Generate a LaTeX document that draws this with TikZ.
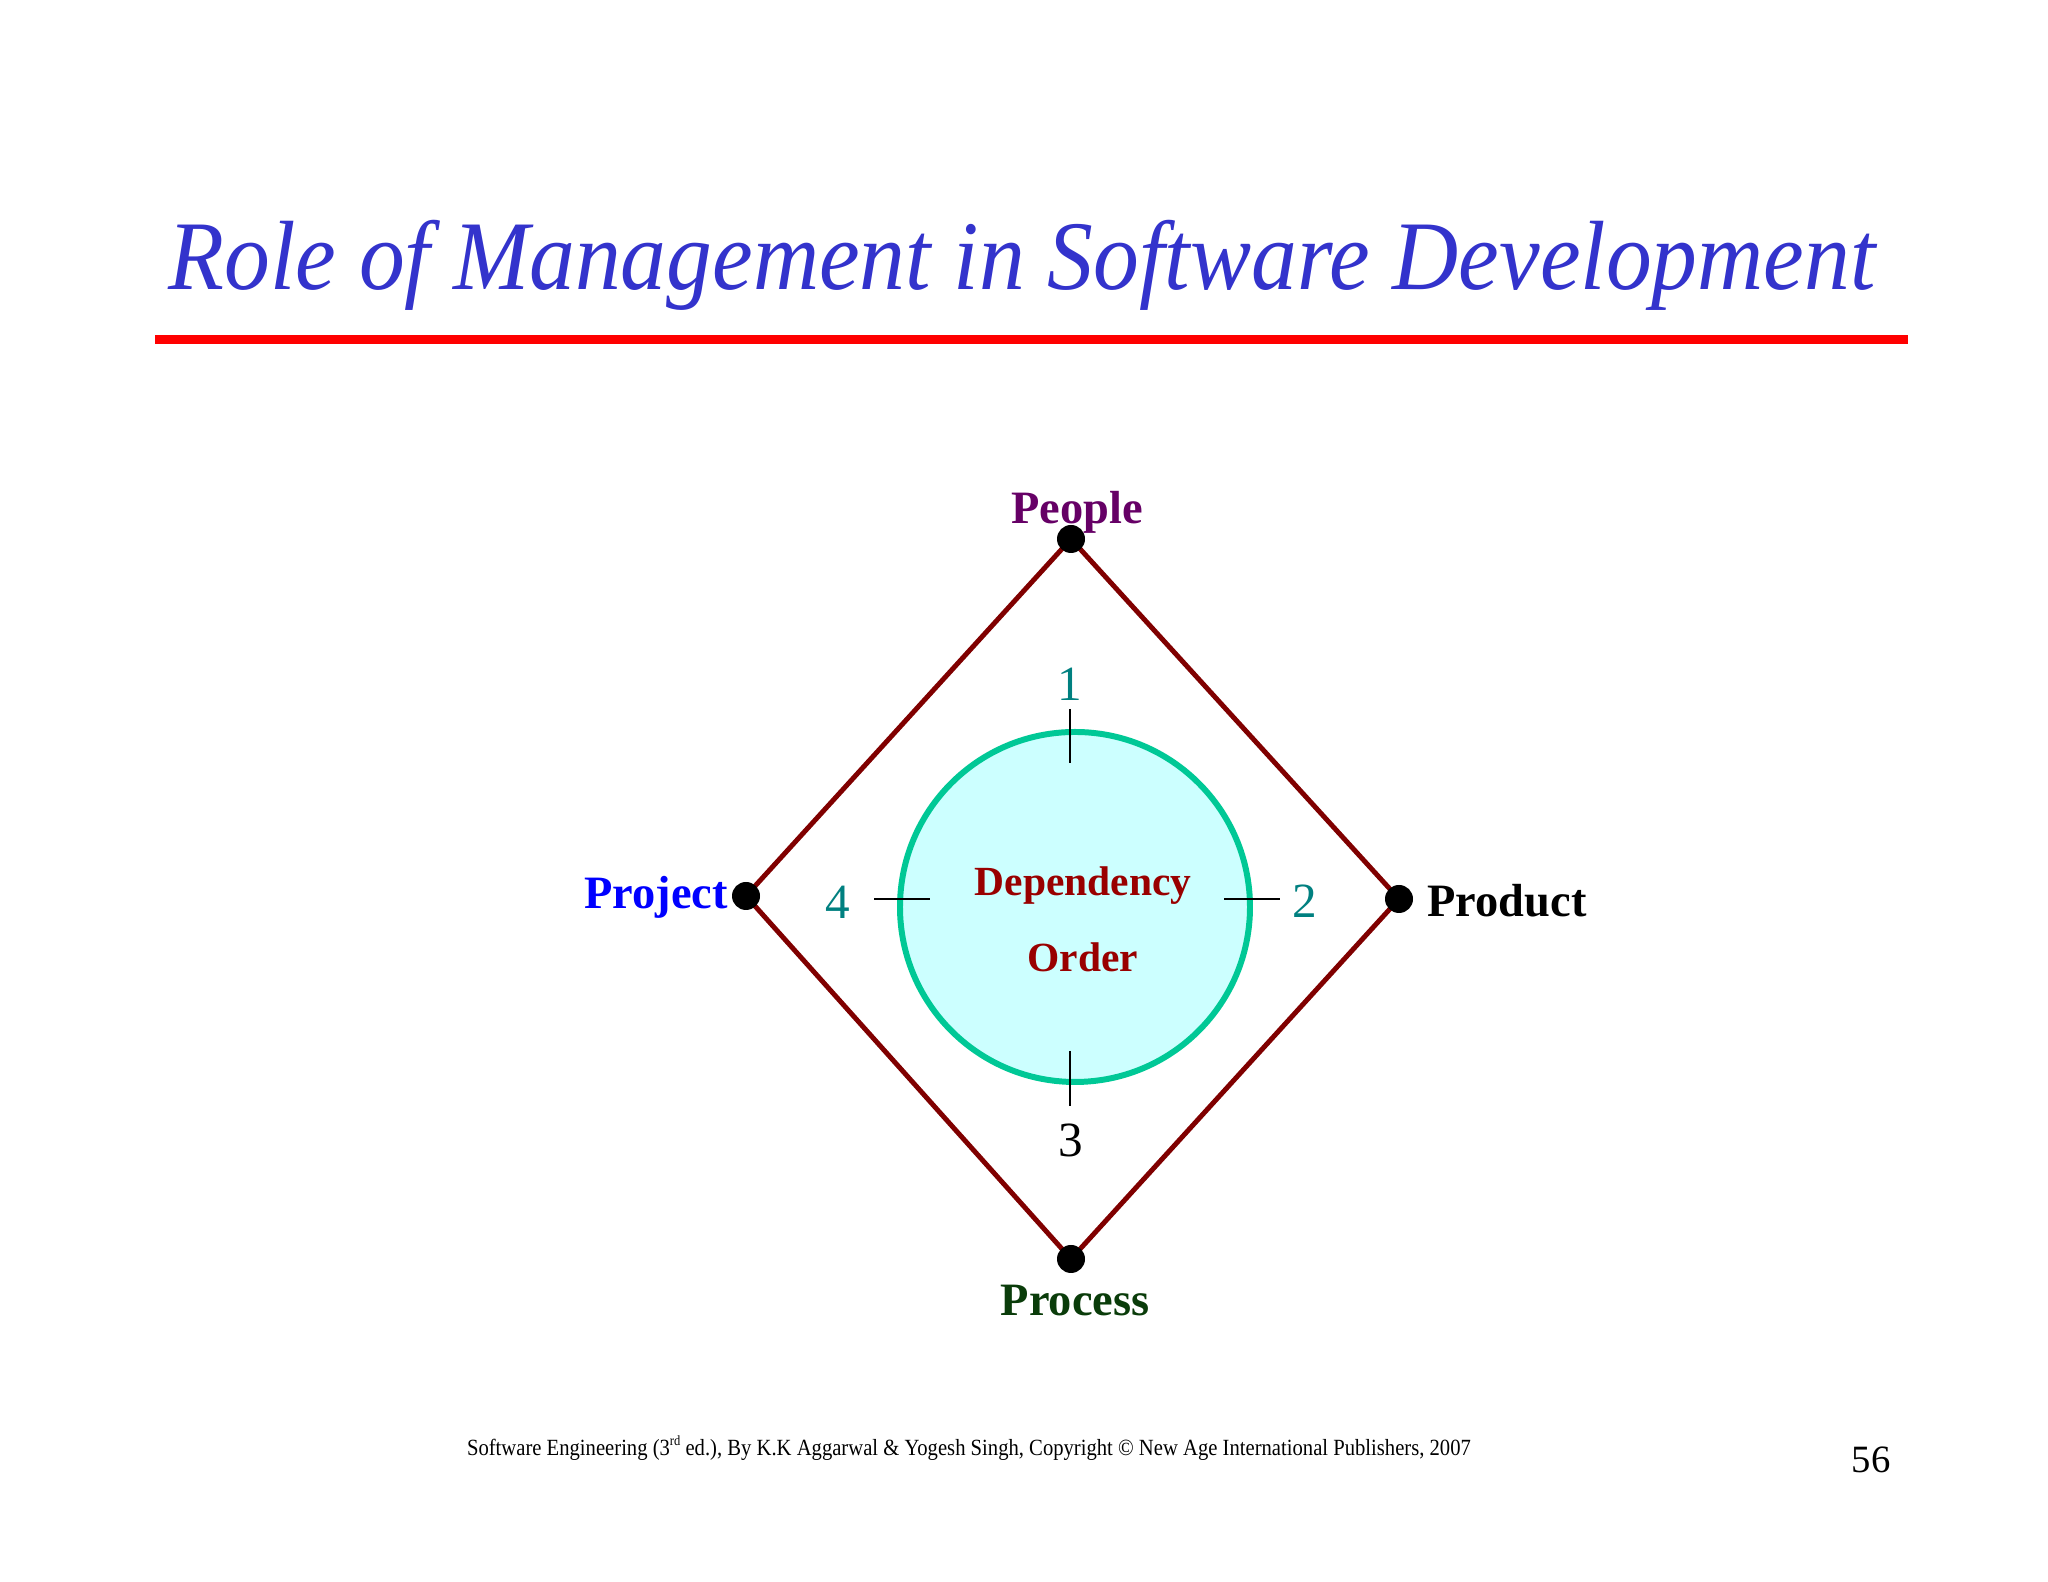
\documentclass[tikz,border=0pt]{standalone}
\usepackage{fontspec}
\setmainfont{Liberation Serif}
\usetikzlibrary{positioning}
\definecolor{titleblue}{RGB}{51,51,204}
\definecolor{rulered}{RGB}{255,0,0}
\definecolor{edgered}{RGB}{128,0,0}
\definecolor{ringgreen}{RGB}{0,200,150}
\definecolor{ringfill}{RGB}{204,255,255}
\definecolor{numteal}{RGB}{0,128,128}
\definecolor{peoplepurple}{RGB}{102,0,102}
\definecolor{processgreen}{RGB}{10,60,10}
\definecolor{depred}{RGB}{153,0,0}
\tikzset{
	vertex/.style={circle, fill=black, inner sep=0pt, minimum size=0.28cm},
	corner/.style={font=\fontsize{13.2}{15}\selectfont\bfseries, inner sep=0pt},
	num/.style={font=\fontsize{14}{16}\selectfont, text=numteal, inner sep=0pt},
	deptext/.style={font=\fontsize{11.8}{14}\selectfont\bfseries, text=depred, inner sep=0pt},
	tickline/.style={draw=black, line width=0.45pt}
}

\begin{document}
\begin{tikzpicture}
        \useasboundingbox (0, 0) rectangle (20.48, 15.82);
        \fill[white] (0, 0) rectangle (20.48, 15.82);

        % Title
        \node[font=\fontsize{28}{34}\selectfont\itshape, text=titleblue, anchor=base, inner sep=0pt] (title) at (10.22, 12.92) {\scalebox{0.93}[1]{Role of Management in Software Development}};
        \coordinate (ruleL) at (1.55, 12.425);
        \coordinate (ruleR) at (19.08, 12.425);
        \draw[rulered, line width=0.095cm] (ruleL) -- (ruleR);

        % Corners of the diamond
        \coordinate (cPeople) at (10.71, 10.43);
        \coordinate (cProduct) at (13.99, 6.83);
        \coordinate (cProcess) at (10.71, 3.23);
        \coordinate (cProject) at (7.46, 6.86);
        \draw[edgered, line width=1.4pt] (cPeople) -- (cProduct) -- (cProcess) -- (cProject) -- cycle;

        % Dependency circle
        \node[circle, draw=ringgreen, fill=ringfill, line width=1.7pt, minimum size=3.5cm, inner sep=0pt] (dep) at (10.75, 6.75) {};
        \node[deptext] (depA) at (10.83, 6.96) {Dependency};
        \node[deptext] (depB) at (10.83, 6.25) {Order};

        % Ticks
        \draw[tickline] (10.70, 8.73) -- (10.70, 8.19);
        \draw[tickline] (12.24, 6.83) -- (12.80, 6.83);
        \draw[tickline] (10.70, 5.31) -- (10.70, 4.76);
        \draw[tickline] (8.74, 6.83) -- (9.30, 6.83);

        % Numbers
        \node[num] (n1) at (10.70, 8.98) {1};
        \node[num] (n2) at (13.05, 6.81) {2};
        \node[num, text=black] (n3) at (10.71, 4.42) {3};
        \node[num] (n4) at (8.38, 6.80) {4};

        % Dots
        \node[vertex] (people) at (cPeople) {};
        \node[vertex] (product) at (cProduct) {};
        \node[vertex] (process) at (cProcess) {};
        \node[vertex] (project) at (cProject) {};

        % Labels
        \node[corner, text=peoplepurple] (peopleL) at (10.77, 10.70) {People};
        \node[corner, text=black] (productL) at (15.07, 6.81) {Product};
        \node[corner, text=processgreen] (processL) at (10.75, 2.81) {Process};
        \node[corner, text=blue] (projectL) at (6.56, 6.85) {Project};

        % Footer
        \node[font=\fontsize{6.6}{8}\selectfont, inner sep=0pt] (foot) at (9.69, 1.34) {\scalebox{0.89}[1]{Software Engineering (3\raisebox{0.9ex}{\fontsize{4}{5}\selectfont rd} ed.), By K.K Aggarwal \& Yogesh Singh, Copyright © New Age International Publishers, 2007}};
        \node[font=\fontsize{11}{13}\selectfont, inner sep=0pt] (page) at (18.71, 1.22) {56};

    \end{tikzpicture}
\end{document}
